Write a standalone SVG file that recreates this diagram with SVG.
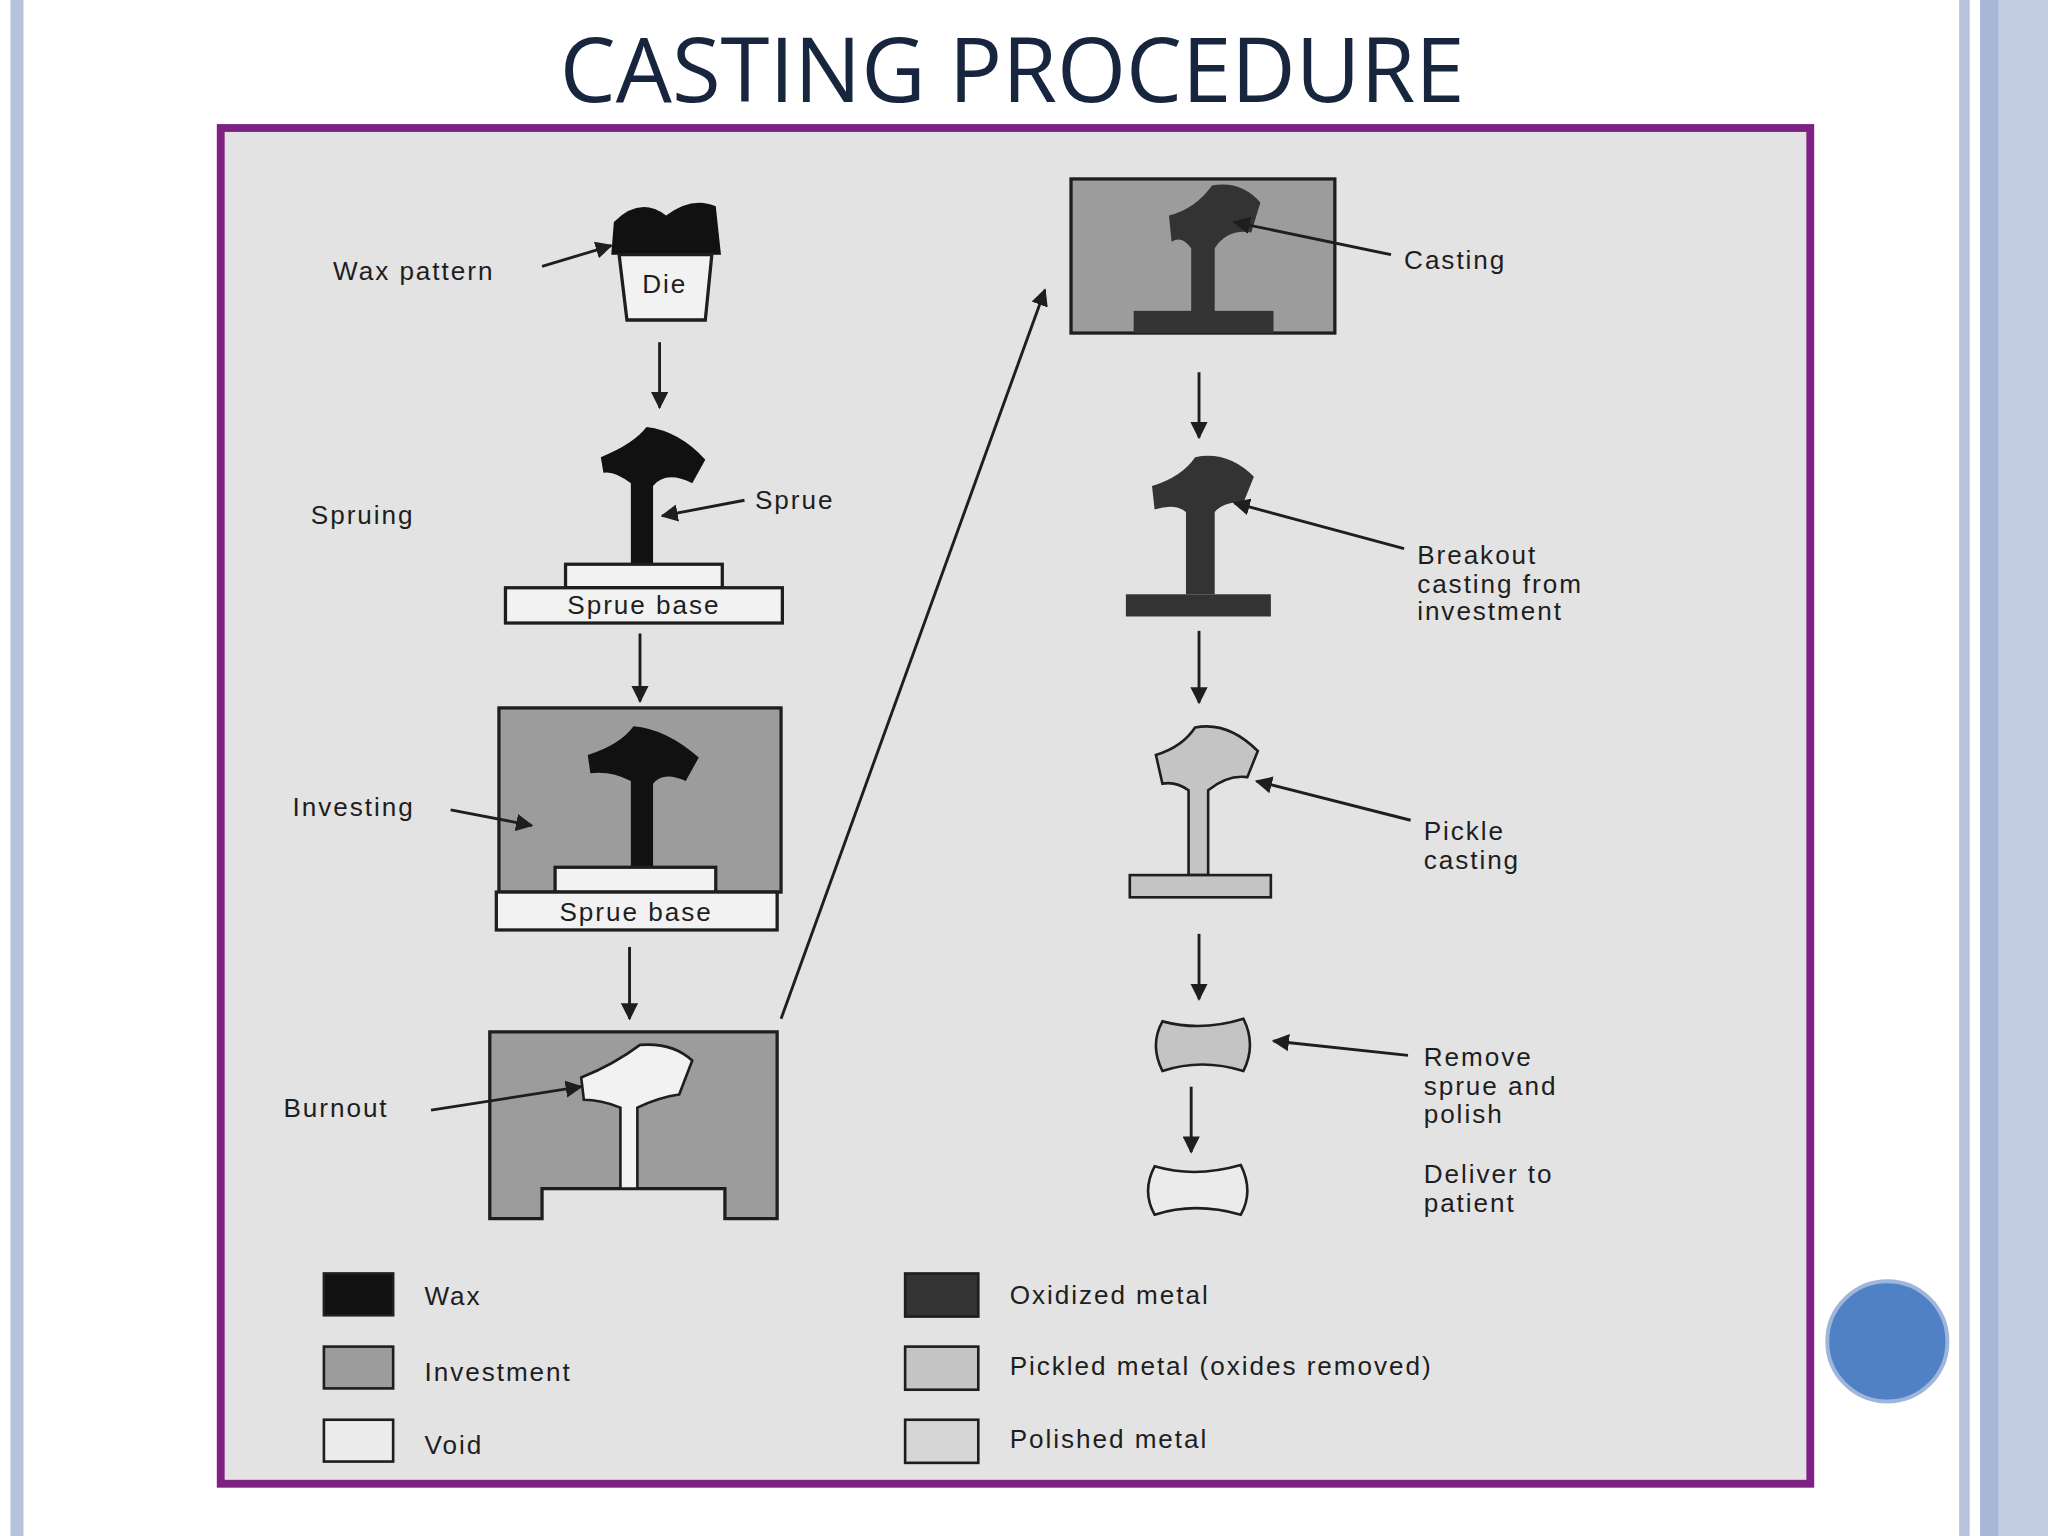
<svg xmlns="http://www.w3.org/2000/svg" width="2048" height="1536" viewBox="0 0 2048 1536">
<defs>
<style>
.t{font-family:"Liberation Sans",Arial,sans-serif;font-size:20px;fill:#1e1e1e;letter-spacing:1.5px}
.ln{stroke:#1e1e1e;stroke-width:2.2}
.wax{fill:#111}
.ox{fill:#333}
.inv{fill:#9c9c9c;stroke:#1e1e1e;stroke-width:2.5}
.pk{fill:#c4c4c4;stroke:#1e1e1e;stroke-width:2}
.vd{fill:#f2f2f2;stroke:#1e1e1e;stroke-width:2}
</style>
<marker id="ah" viewBox="0 0 10 10" refX="9" refY="5" markerWidth="6" markerHeight="6" orient="auto"><path d="M0,0 L10,5 L0,10 Z" fill="#1e1e1e"/></marker>
</defs>
<rect width="2048" height="1536" fill="#fff"/>
<g transform="scale(1.30612)">
<rect x="8" y="0" width="10" height="1176" fill="#b7c3dc"/>
<rect x="1500" y="0" width="8" height="1176" fill="#b7c3dc"/>
<rect x="1516" y="0" width="52" height="1176" fill="#a9b7d6"/>
<rect x="1530" y="0" width="38" height="1176" fill="#c3cde3"/>
<text x="775" y="78" text-anchor="middle" font-family="'Open Sans','Noto Sans',sans-serif" font-size="68" fill="#17253f">CASTING PROCEDURE</text>
<rect x="169" y="98" width="1217" height="1038" fill="#e3e3e3" stroke="#7d2282" stroke-width="6"/>

<g id="wax-pattern">
<path class="wax" d="M470,170 Q490,150 510,165 Q530,150 548,158 L552,195 L468,195 Z"/>
<path d="M474,195 L545,195 L540,245 L480,245 Z" fill="#f2f2f2" stroke="#1e1e1e" stroke-width="2.5"/>
<text class="t" x="509" y="224" text-anchor="middle">Die</text>
<text class="t" x="255" y="214">Wax pattern</text>
</g>

<g id="spruing">
<path class="wax" d="M460,350 Q485,340 495,327 Q520,330 540,352 L530,370 Q510,360 500,372 L500,432 L483,432 L483,370 Q470,360 462,362 Z"/>
<rect x="433" y="432" width="120" height="18" fill="#f2f2f2" stroke="#1e1e1e" stroke-width="2.5"/>
<rect x="387" y="450" width="212" height="27" fill="#f2f2f2" stroke="#1e1e1e" stroke-width="2.5"/>
<text class="t" x="493" y="470" text-anchor="middle">Sprue base</text>
<text class="t" x="238" y="401">Spruing</text>
<text class="t" x="578" y="390">Sprue</text>
</g>

<g id="investing">
<rect class="inv" x="382" y="542" width="216" height="141"/>
<path class="wax" d="M450,578 Q475,570 485,556 Q510,558 535,580 L525,598 Q508,590 500,600 L500,664 L483,664 L483,598 Q468,590 452,592 Z"/>
<rect x="425" y="664" width="123" height="19" fill="#f2f2f2" stroke="#1e1e1e" stroke-width="2.5"/>
<rect x="380" y="683" width="215" height="29" fill="#f2f2f2" stroke="#1e1e1e" stroke-width="2.5"/>
<text class="t" x="487" y="705" text-anchor="middle">Sprue base</text>
<text class="t" x="224" y="625">Investing</text>
</g>

<g id="burnout">
<path class="inv" d="M375,790 L595,790 L595,933 L555,933 L555,910 L415,910 L415,933 L375,933 Z"/>
<path class="vd" d="M445,825 Q470,815 490,800 Q515,798 530,812 L520,838 Q505,840 488,848 L488,910 L475,910 L475,848 Q460,842 447,842 Z"/>
<text class="t" x="217" y="855">Burnout</text>
</g>

<g id="casting">
<rect class="inv" x="820" y="137" width="202" height="118"/>
<path class="ox" d="M895,165 Q915,160 928,142 Q950,138 965,155 L958,178 Q940,175 930,190 L930,240 L912,240 L912,190 Q905,180 897,185 Z"/>
<rect class="ox" x="868" y="238" width="107" height="17"/>
<text class="t" x="1075" y="206">Casting</text>
</g>

<g id="breakout">
<path class="ox" d="M882,372 Q905,365 915,350 Q940,345 960,365 L952,385 Q938,383 930,392 L930,455 L908,455 L908,392 Q900,385 884,390 Z"/>
<rect class="ox" x="862" y="455" width="111" height="17"/>
<text class="t" x="1085" y="432">Breakout</text>
<text class="t" x="1085" y="454">casting from</text>
<text class="t" x="1085" y="475">investment</text>
</g>

<g id="pickle">
<path class="pk" d="M885,578 Q905,572 915,557 Q940,552 963,575 L955,595 Q940,593 925,605 L925,670 L910,670 L910,605 Q900,598 890,600 Z"/>
<rect class="pk" x="865" y="670" width="108" height="17"/>
<text class="t" x="1090" y="643">Pickle</text>
<text class="t" x="1090" y="665">casting</text>
</g>

<g id="remove">
<path class="pk" d="M890,782 Q920,790 952,780 Q962,800 952,820 Q920,810 890,820 Q880,800 890,782 Z"/>
<text class="t" x="1090" y="816">Remove</text>
<text class="t" x="1090" y="838">sprue and</text>
<text class="t" x="1090" y="860">polish</text>
</g>

<g id="deliver">
<path d="M884,893 Q915,902 950,892 Q960,912 950,930 Q915,920 884,930 Q874,912 884,893 Z" fill="#ebebeb" stroke="#1e1e1e" stroke-width="2"/>
<text class="t" x="1090" y="906">Deliver to</text>
<text class="t" x="1090" y="928">patient</text>
</g>

<g id="connectors">
<line class="ln" x1="415" y1="204" x2="468" y2="188" marker-end="url(#ah)"/>
<line class="ln" x1="505" y1="262" x2="505" y2="312" marker-end="url(#ah)"/>
<line class="ln" x1="570" y1="383" x2="507" y2="395" marker-end="url(#ah)"/>
<line class="ln" x1="490" y1="485" x2="490" y2="537" marker-end="url(#ah)"/>
<line class="ln" x1="345" y1="620" x2="407" y2="632" marker-end="url(#ah)"/>
<line class="ln" x1="482" y1="725" x2="482" y2="780" marker-end="url(#ah)"/>
<line class="ln" x1="330" y1="850" x2="445" y2="832" marker-end="url(#ah)"/>
<line class="ln" x1="598" y1="780" x2="800" y2="222" marker-end="url(#ah)"/>
<line class="ln" x1="1065" y1="195" x2="945" y2="170" marker-end="url(#ah)"/>
<line class="ln" x1="918" y1="285" x2="918" y2="335" marker-end="url(#ah)"/>
<line class="ln" x1="1075" y1="420" x2="945" y2="385" marker-end="url(#ah)"/>
<line class="ln" x1="918" y1="483" x2="918" y2="538" marker-end="url(#ah)"/>
<line class="ln" x1="1080" y1="628" x2="962" y2="598" marker-end="url(#ah)"/>
<line class="ln" x1="918" y1="715" x2="918" y2="765" marker-end="url(#ah)"/>
<line class="ln" x1="1078" y1="808" x2="975" y2="797" marker-end="url(#ah)"/>
<line class="ln" x1="912" y1="832" x2="912" y2="882" marker-end="url(#ah)"/>
</g>

<g id="legend">
<rect x="248" y="975" width="53" height="32" fill="#111" stroke="#1e1e1e" stroke-width="2"/>
<rect x="248" y="1031" width="53" height="32" fill="#9c9c9c" stroke="#1e1e1e" stroke-width="2"/>
<rect x="248" y="1087" width="53" height="32" fill="#ececec" stroke="#1e1e1e" stroke-width="2"/>
<text class="t" x="325" y="999">Wax</text>
<text class="t" x="325" y="1057">Investment</text>
<text class="t" x="325" y="1113">Void</text>
<rect x="693" y="975" width="56" height="33" fill="#333" stroke="#1e1e1e" stroke-width="2"/>
<rect x="693" y="1031" width="56" height="33" fill="#c4c4c4" stroke="#1e1e1e" stroke-width="2"/>
<rect x="693" y="1087" width="56" height="33" fill="#d6d6d6" stroke="#1e1e1e" stroke-width="2"/>
<text class="t" x="773" y="998">Oxidized metal</text>
<text class="t" x="773" y="1053">Pickled metal (oxides removed)</text>
<text class="t" x="773" y="1109">Polished metal</text>
</g>

<circle cx="1445" cy="1027" r="46" fill="#4f81c4" stroke="#9fb6dc" stroke-width="3"/>
</g>
</svg>
